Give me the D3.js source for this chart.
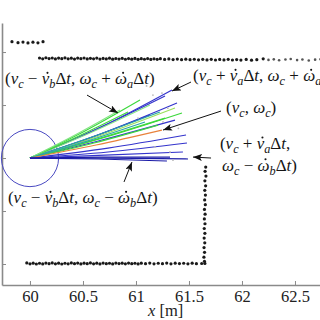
<!DOCTYPE html>
<html><head><meta charset="utf-8">
<script src="https://cdn.jsdelivr.net/npm/d3@7"></script>
<style>html,body{margin:0;padding:0;background:#fff;overflow:hidden}
svg text{font-family:"Liberation Serif","Times New Roman","DejaVu Serif",serif;}</style>
</head><body>
<svg id="chart" width="320" height="320"></svg>
<script>
// ---------------- data (metres) ----------------
const xTicks = [60, 60.5, 61, 61.5, 62, 62.5];
const yTicks = [-1, -0.5, 0, 0.5, 1];
const xLabelMain = "x";
const xLabelUnit = " [m]";
const robot = {x: 60, y: 0, r: 0.27};

const wallTopLeft = [[59.830,1.098],[59.887,1.088],[59.934,1.094],[59.981,1.086],[60.028,1.093],[60.075,1.087],[60.123,1.098]];
const wallTop = [
[60.09,0.944],[60.12,0.936],[60.15,0.946],[60.18,0.938],[60.21,0.944],[60.24,0.935],[60.27,0.943],[60.30,0.937],[60.33,0.945],[60.36,0.936],[60.39,0.942],[60.42,0.934],[60.45,0.943],[60.48,0.937],[60.51,0.944],[60.54,0.935],[60.57,0.941],[60.60,0.936],[60.63,0.943],[60.66,0.934],[60.69,0.940],[60.72,0.935],[60.75,0.942],[60.78,0.933],[60.81,0.939],[60.84,0.934],[60.87,0.941],[60.90,0.932],[60.93,0.938],[60.96,0.933],[60.99,0.940],[61.02,0.931],[61.05,0.937],[61.08,0.932],[61.11,0.938],[61.14,0.930],[61.17,0.936],[61.20,0.931],[61.23,0.937],
[61.27,0.930],[61.31,0.935],[61.35,0.929],[61.39,0.934],[61.43,0.928],[61.47,0.933],[61.51,0.928],[61.55,0.932],[61.59,0.927],[61.63,0.931],[61.67,0.926],[61.71,0.931],[61.75,0.925],[61.79,0.930],[61.83,0.926],[61.87,0.931],[61.91,0.925],[61.95,0.929],[61.99,0.924],
[62.04,0.930],[62.09,0.923],[62.14,0.928],[62.20,0.936],[62.25,0.926],[62.30,0.931],[62.35,0.922],[62.41,0.929],[62.46,0.934],[62.52,0.924],[62.57,0.930],[62.63,0.920],[62.69,0.928],[62.74,0.933]];
const wallRight = [[61.658,-0.085],[61.652,-0.125],[61.660,-0.170],[61.650,-0.215],[61.657,-0.262],[61.649,-0.305],[61.655,-0.350],[61.648,-0.395],[61.654,-0.440],[61.646,-0.485],[61.652,-0.530],[61.645,-0.575],[61.651,-0.620],[61.644,-0.665],[61.650,-0.710],[61.643,-0.755],[61.649,-0.800],[61.642,-0.845],[61.647,-0.890],[61.641,-0.935],[61.646,-0.975]];
const wallBottom = [[59.97,-0.990],[60.00,-0.998],[60.03,-0.992],[60.06,-1.000],[60.09,-0.993],[60.12,-0.999],[60.15,-0.991],[60.18,-0.997],[60.21,-0.990],[60.24,-0.998],[60.27,-0.992],[60.30,-1.000],[60.33,-0.993],[60.36,-0.998],[60.39,-0.990],[60.42,-0.997],[60.45,-0.991],[60.48,-0.999],[60.51,-0.992],[60.54,-0.997],[60.57,-0.990],[60.60,-0.998],[60.63,-0.992],[60.66,-0.999],[60.69,-0.991],[60.72,-0.997],[60.75,-0.993],[60.78,-0.999],[60.81,-0.991],[60.84,-0.996],[60.87,-0.992],[60.90,-0.998],[60.93,-0.991],[60.96,-0.997],[60.99,-0.993],[61.02,-0.999],[61.05,-0.992],[61.09,-0.997],[61.13,-0.991],[61.17,-0.998],[61.21,-0.993],[61.25,-0.997],[61.29,-0.991],[61.33,-0.998],[61.37,-0.992],[61.41,-0.996],[61.45,-0.993],[61.49,-0.998],[61.53,-0.992],[61.57,-0.997],[61.62,-0.995],[61.65,-0.994]];

// candidate trajectories: start, mid, end (metres)
const trajectories = [
  {c:"blue",  p:[[60,0],[60.670,0.292],[61.340,0.642]]},
  {c:"blue",  p:[[60,0],[60.689,0.236],[61.387,0.519]]},
  {c:"blue",  p:[[60,0],[60.632,0.274],[61.274,0.585]]},
  {c:"blue",  p:[[60,0],[60.679,0.170],[61.368,0.358]]},
  {c:"blue",  p:[[60,0],[60.566,0.189],[61.132,0.406]]},
  {c:"blue",  p:[[60,0],[60.736,0.094],[61.472,0.217]]},
  {c:"blue",  p:[[60,0],[60.736,0.057],[61.481,0.142]]},
  {c:"blue",  p:[[60,0],[60.708,0.028],[61.443,0.057]]},
  {c:"green", p:[[60,0],[60.519,0.255],[61.038,0.547]]},
  {c:"lgreen",p:[[60,0],[60.566,0.236],[61.132,0.500]]},
  {c:"green", p:[[60,0],[60.717,0.198],[61.434,0.425]]},
  {c:"green", p:[[60,0],[60.632,0.179],[61.274,0.377]]},
  {c:"green", p:[[60,0],[60.462,0.208],[60.925,0.434]]},
  {c:"lgreen",p:[[60,0],[60.425,0.217],[60.849,0.453]]},
  {c:"green", p:[[60,0],[60.604,0.142],[61.208,0.311]]},
  {c:"ygreen",p:[[60,0],[60.679,0.217],[61.368,0.472]]},
  {c:"teal",  p:[[60,0],[60.538,0.160],[61.085,0.340]]},
  {c:"teal",  p:[[60,0],[60.613,0.208],[61.226,0.434]]},
  {c:"orange",p:[[60,0],[60.623,0.123],[61.245,0.264]]},
  {c:"navy",  p:[[60,0],[60.642,-0.009],[61.292,-0.028]]},
  {c:"navy",  p:[[60,0],[60.660,0.009],[61.321,0.009]]},
  {c:"navy",  p:[[60,0],[60.745,0.000],[61.491,-0.009]]}
];
const faintPts = [[61.16,0.594],[61.245,0.613],[61.019,0.377],[61.255,0.340],[61.179,0.104],[61.321,0.057],[61.349,-0.020],[61.10,0.68],[61.40,0.28],[61.30,0.47]];

// annotation texts: [text, style] with r = roman, i = italic, s = subscript, d = italic with dot accent
const label1 = [["(","r"],["v","i"],["c","s"],[" − ","r"],["v","d"],["b","s"],["Δ","r"],["t","i"],[", ","r"],["ω","i"],["c","s"],[" + ","r"],["ω","d"],["a","s"],["Δ","r"],["t","i"],[")","r"]];
const label2 = [["(","r"],["v","i"],["c","s"],[" + ","r"],["v","d"],["a","s"],["Δ","r"],["t","i"],[", ","r"],["ω","i"],["c","s"],[" + ","r"],["ω","d"],["a","s"],["Δ","r"],["t","i"],[")","r"]];
const label3 = [["(","r"],["v","i"],["c","s"],[", ","r"],["ω","i"],["c","s"],[")","r"]];
const label4a = [["(","r"],["v","i"],["c","s"],[" + ","r"],["v","d"],["a","s"],["Δ","r"],["t","i"],[",","r"]];
const label4b = [["ω","i"],["c","s"],[" − ","r"],["ω","d"],["b","s"],["Δ","r"],["t","i"],[")","r"]];
const label5 = [["(","r"],["v","i"],["c","s"],[" − ","r"],["v","d"],["b","s"],["Δ","r"],["t","i"],[", ","r"],["ω","i"],["c","s"],[" − ","r"],["ω","d"],["b","s"],["Δ","r"],["t","i"],[")","r"]];

// ---------------- drawing ----------------
const svg = d3.select("#chart");
const serif = '"Liberation Serif","Times New Roman","DejaVu Serif",serif';
const x = d3.scaleLinear().domain([59.736, 62.8]).range([2, 2 + 3.064 * 106]);
const y = d3.scaleLinear().domain([-1.198, 1.274]).range([285, 23]);
const colors = {blue:"#3434cc", navy:"#1c1ca8", green:"#3cd83c", lgreen:"#86e486", ygreen:"#9be05a", teal:"#2aa6a6", orange:"#e8823c"};

// axes
const xAxis = svg.append("g").attr("transform", `translate(0,${y.range()[0]})`)
  .call(d3.axisBottom(x).tickValues(xTicks).tickFormat(d3.format("")).tickSizeInner(-4).tickSizeOuter(0).tickPadding(5));
const yAxis = svg.append("g").attr("transform", `translate(${x.range()[0]},0)`)
  .call(d3.axisLeft(y).tickValues(yTicks).tickFormat("").tickSizeInner(-4).tickSizeOuter(0));
[xAxis, yAxis].forEach(a => {
  a.attr("font-family", null);
  a.select(".domain").attr("stroke", "#8a8a8a").attr("stroke-width", 1.6);
  a.selectAll(".tick line").attr("stroke", "#8a8a8a");
  a.selectAll("text").style("font-family", serif).style("font-size", "16.5px").attr("fill", "#222");
});
const xl = svg.append("text").attr("x", 148).attr("y", 316).style("font-family", serif).style("font-size", "16.5px").attr("fill", "#222").style("white-space","pre");
xl.append("tspan").attr("font-style", "italic").text(xLabelMain);
xl.append("tspan").text(xLabelUnit);

// walls
[wallTopLeft, wallTop, wallRight, wallBottom].forEach(w => {
  svg.append("g").selectAll("circle").data(w).join("circle")
    .attr("cx", d => x(d[0])).attr("cy", d => y(d[1]))
    .attr("r", d => d[0] > 62.2 ? 1.3 : 1.6)
    .attr("fill", d => d[0] > 62.2 ? "#555" : "#1a1a1a");
});

// robot
svg.append("circle").attr("cx", x(robot.x)).attr("cy", y(robot.y))
  .attr("r", x(robot.x + robot.r) - x(robot.x))
  .attr("fill", "none").attr("stroke", "#4a4ac2").attr("stroke-width", 1);

// trajectories
const line = d3.line().x(d => x(d[0])).y(d => y(d[1])).curve(d3.curveNatural);
svg.append("g").selectAll("path").data(trajectories).join("path")
  .attr("d", d => line(d.p)).attr("fill", "none")
  .attr("stroke", d => colors[d.c]).attr("stroke-width", 1.2);
svg.append("g").selectAll("circle").data(faintPts).join("circle")
  .attr("cx", d => x(d[0])).attr("cy", d => y(d[1])).attr("r", 0.9).attr("fill", "#bbb");

// arrows
svg.append("defs").append("marker").attr("id", "ah").attr("markerUnits", "userSpaceOnUse")
  .attr("markerWidth", 10).attr("markerHeight", 8).attr("refX", 9).attr("refY", 3.5).attr("orient", "auto")
  .append("path").attr("d", "M0,0 L9,3.5 L0,7 L2,3.5 Z").attr("fill", "#111");
const arrows = [
  [[60.538,0.594],[60.830,0.425]],
  [[61.519,0.717],[61.340,0.632]],
  [[61.802,0.443],[61.255,0.264]],
  [[61.708,0.000],[61.538,0.009]],
  [[60.887,-0.226],[60.962,-0.038]]
];
svg.append("g").selectAll("line").data(arrows).join("line")
  .attr("x1", d => x(d[0][0])).attr("y1", d => y(d[0][1]))
  .attr("x2", d => x(d[1][0])).attr("y2", d => y(d[1][1]))
  .attr("stroke", "#111").attr("stroke-width", 1).attr("marker-end", "url(#ah)");

// math labels
const FS = 17;
function mathText(px, py, segs) {
  const baseY = y(py);
  const t = svg.append("text").attr("x", x(px)).attr("y", baseY)
    .style("font-family", serif).style("font-size", FS + "px").attr("fill", "#151515").style("white-space", "pre");
  let shifted = false;
  const dotted = [];
  segs.forEach(s => {
    const ts = t.append("tspan").text(s[0]);
    if (s[1] !== "r") ts.attr("font-style", "italic");
    if (s[1] === "s") {
      ts.style("font-size", (FS * 0.72) + "px").attr("dy", shifted ? 0 : 4);
      shifted = true;
    } else if (shifted) {
      ts.attr("dy", -4); shifted = false;
    }
    if (s[1] === "d") dotted.push(ts);
  });
  dotted.forEach(ts => {
    const node = ts.node();
    const n = t.node();
    let idx = 0;
    for (const c of n.childNodes) { if (c === node) break; idx += c.textContent.length; }
    const ext = n.getExtentOfChar(idx);
    svg.append("circle").attr("cx", ext.x + ext.width * 0.5 + 2).attr("cy", baseY - FS * 0.66)
      .attr("r", 1.05).attr("fill", "#151515");
  });
}
mathText(59.764, 0.698, label1);
mathText(61.538, 0.726, label2);
mathText(61.849, 0.425, label3);
mathText(61.792, 0.088, label4a);
mathText(61.811, -0.118, label4b);
mathText(59.792, -0.425, label5);
</script>
</body></html>
